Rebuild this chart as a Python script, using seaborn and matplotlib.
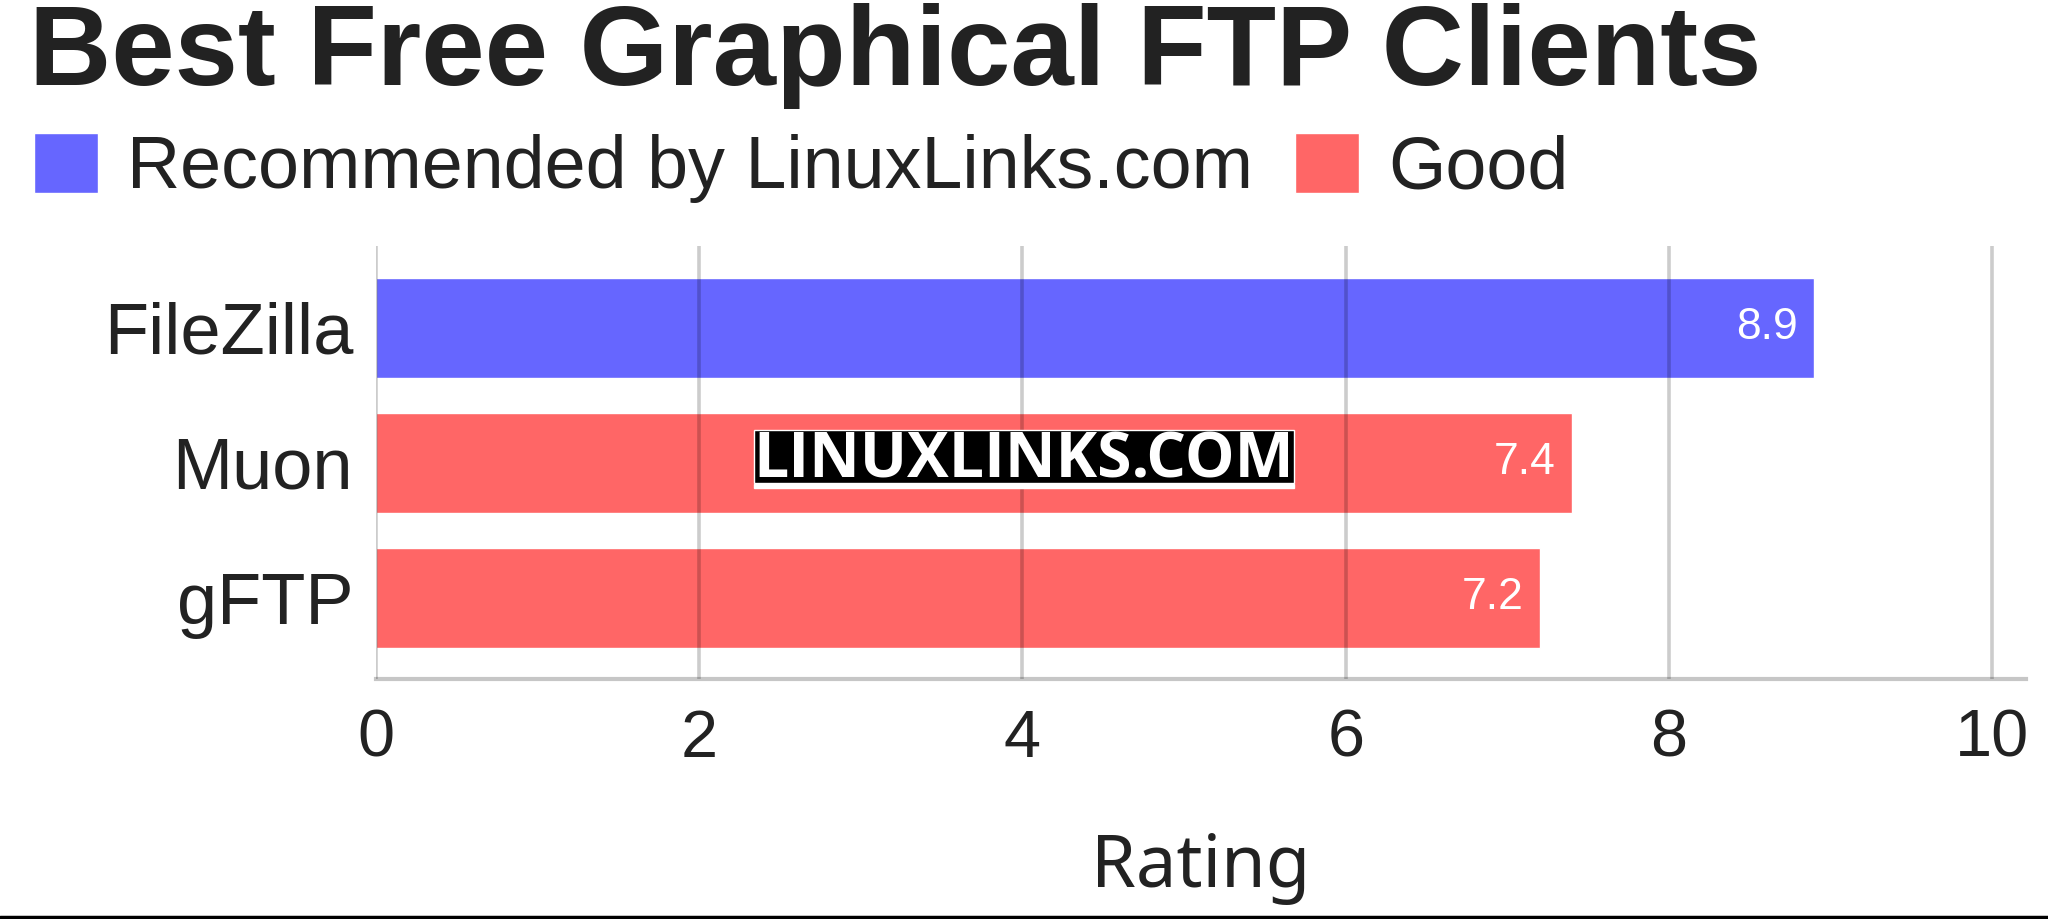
"""Best Free Graphical FTP Clients - horizontal bar chart"""
import pandas as pd
import matplotlib.pyplot as plt
from matplotlib.patches import Rectangle
from matplotlib.lines import Line2D
import seaborn as sns

# Data
clients = ['FileZilla', 'Muon', 'gFTP']
ratings = [8.9, 7.4, 7.2]
status = ['Recommended by LinuxLinks.com', 'Good', 'Good']
palette = {'Recommended by LinuxLinks.com': '#6666ff', 'Good': '#ff6666'}

sns.set_style('white')
plt.rcParams['font.family'] = ['Liberation Sans', 'DejaVu Sans']
TXT = '#222222'

df = pd.DataFrame({'client': clients, 'rating': ratings, 'status': status})

fig = plt.figure(figsize=(20.48, 9.19), dpi=100)
ax = fig.add_axes([376 / 2048, 1 - 679 / 919, (2026 - 376) / 2048, (679 - 246) / 919])

sns.barplot(data=df, x='rating', y='client', hue='status', palette=palette,
            dodge=False, width=0.74, orient='h', saturation=1, ax=ax,
            hue_order=['Recommended by LinuxLinks.com', 'Good'])

# legend at the top of the figure
handles, labels = ax.get_legend_handles_labels()
ax.get_legend().remove()
fig.legend(handles, labels, loc='center left', bbox_to_anchor=(34 / 2048, 1 - 168 / 919),
           ncol=2, frameon=False, fontsize=53, handlelength=0.87, handleheight=0.87,
           handletextpad=0.4, columnspacing=0.56, borderpad=0, borderaxespad=0,
           labelcolor=TXT)

# value labels inside the bar ends
for cont in ax.containers:
    labs = ax.bar_label(cont, fmt='%.1f', padding=-11.5, color='white', fontsize=32)
    for t in labs:
        t.set_horizontalalignment('right')

ax.set_xlim(0, 10.21)
ax.set_ylim(2.6, -0.607)
ax.set_xticks([0, 2, 4, 6, 8, 10])
ax.tick_params(axis='x', length=0, pad=21.5, labelsize=48, labelcolor=TXT)
ax.tick_params(axis='y', length=0, pad=16.5, labelsize=52, labelcolor=TXT)
ax.set_ylabel('')
ax.set_xlabel('Rating', fontsize=52, color=TXT, family='Noto Sans')
ax.xaxis.set_label_coords(0.5, -0.35)

ax.xaxis.grid(True, color='black', alpha=0.2, linewidth=2.6)
ax.yaxis.grid(False)
ax.set_axisbelow(False)
for s in ['top', 'right', 'left']:
    ax.spines[s].set_visible(False)
ax.spines['bottom'].set_color('#c6c6c6')
ax.spines['bottom'].set_linewidth(3)

# title
fig.text(29 / 2048, 1 - 85 / 919, 'Best Free Graphical FTP Clients', fontsize=82,
         fontweight='bold', color=TXT, ha='left', va='baseline')

# watermark
fig.patches.append(Rectangle((754 / 2048, 1 - 483 / 919), 540 / 2048, 53 / 919,
                             transform=fig.transFigure, facecolor='black', zorder=5))
fig.patches.append(Rectangle((754 / 2048, 1 - 488 / 919), 540 / 2048, 4 / 919,
                             transform=fig.transFigure, facecolor='white', zorder=5))
fig.text(0.5, 1 - 478 / 919, 'LINUXLINKS.COM', family=['Open Sans', 'DejaVu Sans'],
         fontweight='bold', fontsize=45, color='white', ha='center', va='baseline', zorder=6)

# bottom rule
fig.add_artist(Line2D([0, 1], [2 / 919, 2 / 919], transform=fig.transFigure,
                      color='black', linewidth=2.5))

plt.savefig('out.png', dpi=100)
plt.close()
